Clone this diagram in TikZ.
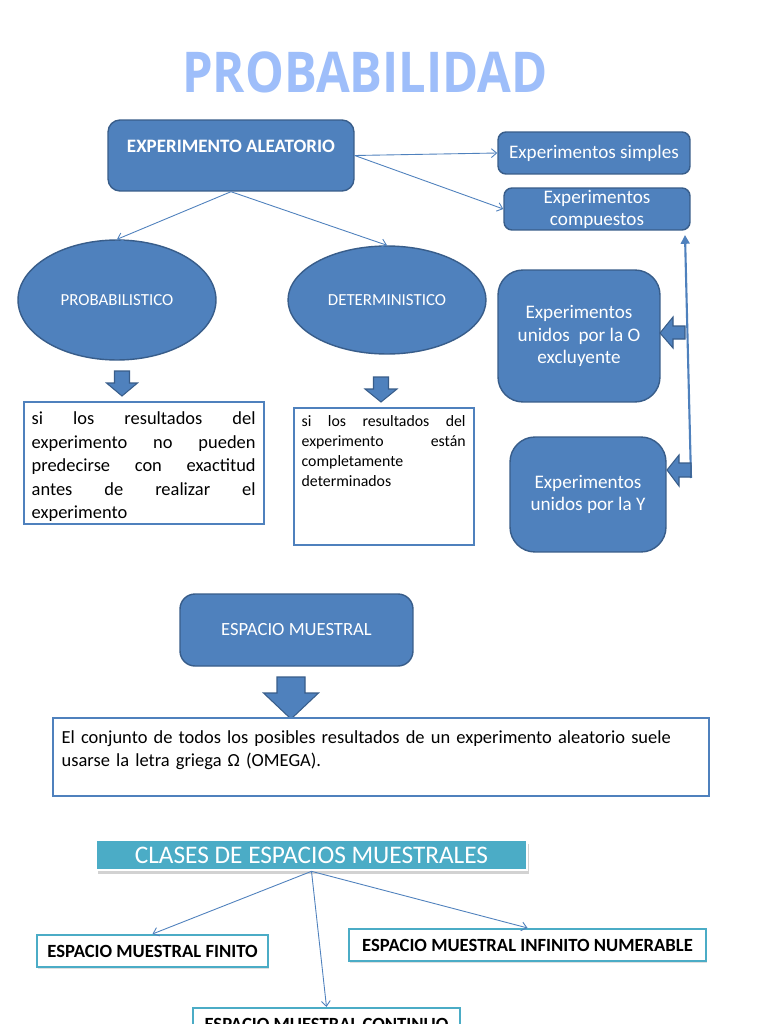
\documentclass[tikz,border=0pt]{standalone}
\usepackage{fontspec}
\setmainfont{Carlito}
\newfontfamily\titlefont{Open Sans}
\usetikzlibrary{positioning,calc,shapes.geometric,arrows.meta,shadows}

\definecolor{boxblue}{RGB}{79,129,189}
\definecolor{boxedge}{RGB}{56,93,138}
\definecolor{titleblue}{RGB}{158,190,250}
\definecolor{tealbox}{RGB}{75,172,198}

\tikzset{
  bluebox/.style={draw=boxedge, fill=boxblue, line width=0.8pt, text=white, align=center, inner sep=0pt},
  blueoval/.style={ellipse, draw=boxedge, fill=boxblue, line width=0.8pt, text=white, inner sep=0pt, font=\fontsize{9.6}{11}\selectfont},
  notebox/.style={draw=boxblue, fill=white, line width=0.8pt, inner sep=0pt},
  notetext/.style={inner sep=0pt, align=justify},
  classbox/.style={draw=tealbox, fill=white, line width=1.2pt, inner sep=0pt, minimum height=0.64cm,
    drop shadow={shadow xshift=0.5pt, shadow yshift=-1pt, opacity=0.25},
    font=\bfseries\fontsize{10.6}{12}\selectfont},
  link/.style={draw=boxblue, line width=0.5pt, -{Straight Barb[length=3pt,width=5pt]}},
  blockarr/.style={draw=boxedge, fill=boxblue, line width=0.6pt},
}

\begin{document}
\begin{tikzpicture}[x=0.02cm, y=-0.02cm]
  \path[use as bounding box, fill=white] (0,0) rectangle (768,1024);

  % title
  \node[text=titleblue, font=\titlefont\bfseries\fontsize{32}{34}\selectfont] (title) at (365,72) {\scalebox{0.87}[1]{PROBABILIDAD}};

  % experimento aleatorio and its kinds
  \node[bluebox, rounded corners=0.24cm, minimum width=4.92cm, minimum height=1.42cm,
    font=\bfseries\fontsize{10.8}{12}\selectfont, text height=7pt, text depth=10.8pt] (aleat) at (231,155.5) {EXPERIMENTO ALEATORIO};
  \node[bluebox, rounded corners=0.16cm, minimum width=3.84cm, minimum height=0.84cm,
    font=\fontsize{10.9}{12.5}\selectfont] (simples) at (594,153) {Experimentos simples};
  \node[bluebox, rounded corners=0.16cm, minimum width=3.72cm, minimum height=0.84cm,
    font=\fontsize{10.9}{12.5}\selectfont] (compuestos) at (597,209) {Experimentos\\compuestos};
  \node[blueoval, minimum width=3.96cm, minimum height=2.4cm] (prob) at (117,300) {PROBABILISTICO};
  \node[blueoval, minimum width=3.96cm, minimum height=2.16cm] (det) at (387,300) {DETERMINISTICO};
  \node[bluebox, rounded corners=0.5cm, minimum width=3.24cm, minimum height=2.64cm,
    font=\fontsize{10.9}{13}\selectfont] (oexcl) at (579,336) {Experimentos\\unidos~ por la O\\excluyente};
  \node[bluebox, rounded corners=0.5cm, minimum width=3.12cm, minimum height=2.3cm,
    font=\fontsize{10.9}{13}\selectfont] (yunid) at (588,494.5) {Experimentos\\unidos por la Y};

  \draw[link] (aleat.south) -- (prob.north);
  \draw[link] (aleat.south) -- (det.north);
  \draw[link] (aleat.east) -- (simples.west);
  \draw[link] (aleat.east) -- (compuestos.west);

  % line up to compuestos
  \coordinate (vbot) at (691,478);
  \coordinate (vtop) at (685,235);
  \draw[boxblue, line width=1.2pt, -{Triangle[length=5pt,width=5pt]}] (vbot) -- (vtop);
  \draw[blockarr] (685,326) -- (673,326) -- (673,317) -- (660,333) -- (673,348) -- (673,339) -- (685,339) -- cycle;
  \draw[blockarr] (691,463) -- (679,463) -- (679,455) -- (667,470) -- (679,486) -- (679,477) -- (691,477) -- cycle;

  % notes under the ovals
  \draw[blockarr] (114.5,371) -- (129.5,371) -- (129.5,383) -- (137.5,383) -- (122,396) -- (106.5,383) -- (114.5,383) -- cycle;
  \draw[blockarr] (373.5,377) -- (388.5,377) -- (388.5,389) -- (397,389) -- (381,402) -- (365,389) -- (373.5,389) -- cycle;
  \node[notebox, minimum width=4.8cm, minimum height=2.44cm] (probnote) at (144,463) {};
  \node[notetext, text width=4.48cm, font=\fontsize{10.5}{13.4}\selectfont,
    below right=0.2cm and 0.16cm of probnote.north west] (probtext)
    {si los resultados del\linebreak experimento no pueden\linebreak predecirse con exactitud\linebreak antes de realizar el\linebreak experimento};
  \node[notebox, minimum width=3.6cm, minimum height=2.74cm] (detnote) at (384,476.5) {};
  \node[notetext, text width=3.28cm, font=\fontsize{9}{11.4}\selectfont,
    below right=0.16cm and 0.16cm of detnote.north west] (dettext)
    {si los resultados del\linebreak experimento están\linebreak completamente\newline determinados};

  % espacio muestral
  \node[bluebox, rounded corners=0.3cm, minimum width=4.66cm, minimum height=1.44cm,
    font=\fontsize{10.6}{12}\selectfont] (espacio) at (296.5,630) {ESPACIO MUESTRAL};
  \draw[blockarr] (277,677) -- (305,677) -- (305,693) -- (318.5,693) -- (291,719) -- (263.5,693) -- (277,693) -- cycle;
  \node[notebox, minimum width=13.12cm, minimum height=1.56cm] (omeganote) at (381,757) {};
  \node[inner sep=0pt, text width=12.9cm, align=left, font=\fontsize{10.5}{13}\selectfont,
    below right=0.27cm and 0.18cm of omeganote.north west] (omegatext)
    {El conjunto de todos los posibles resultados de un experimento aleatorio suele\\usarse la letra griega Ω (OMEGA).};

  % clases de espacios muestrales
  \node[fill=tealbox, draw=white, line width=1.5pt, text=white, inner sep=0pt,
    minimum width=8.62cm, minimum height=0.6cm,
    drop shadow={shadow xshift=1pt, shadow yshift=-2pt, opacity=0.35},
    font=\fontsize{14.4}{16}\selectfont] (clases) at (311.5,855) {CLASES DE ESPACIOS MUESTRALES};
  \node[classbox, minimum width=4.62cm] (finito) at (152.5,951) {ESPACIO MUESTRAL FINITO};
  \node[classbox, minimum width=7.14cm] (infinito) at (527.5,945) {ESPACIO MUESTRAL INFINITO NUMERABLE};
  \node[classbox, minimum width=5.34cm] (continuo) at (326.5,1024) {ESPACIO MUESTRAL CONTINUO};

  \draw[link] (clases.south) -- (finito.north);
  \draw[link] (clases.south) -- (continuo.north);
  \draw[link] (clases.south) -- (infinito.north);
\end{tikzpicture}
\end{document}
